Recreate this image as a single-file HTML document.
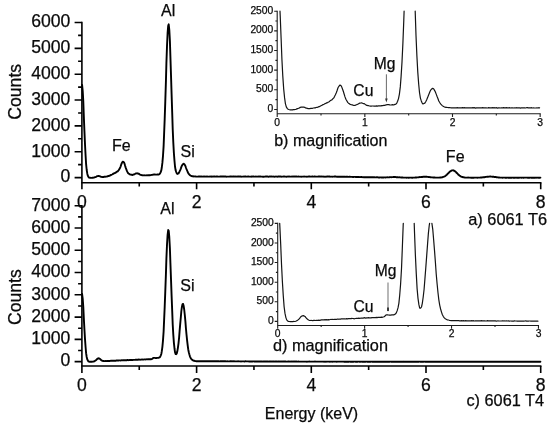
<!DOCTYPE html><html><head><meta charset="utf-8"><title>EDS spectra</title>
<style>html,body{margin:0;padding:0;background:#fff}svg{display:block}text{font-family:"Liberation Sans",sans-serif;fill:#0a0a0a;stroke:#0a0a0a;stroke-width:0.25px}</style></head><body>
<svg width="550" height="427" viewBox="0 0 550 427">
<rect width="550" height="427" fill="#fff"/>
<g stroke="#000" stroke-width="1.6" fill="none" stroke-linecap="butt"><path d="M81.90 21.85V189.25"/><path d="M81.15 182.75H541.45"/><path d="M74.60 177.60H81.90M78.10 164.67H81.90M74.60 151.75H81.90M78.10 138.82H81.90M74.60 125.90H81.90M78.10 112.97H81.90M74.60 100.05H81.90M78.10 87.12H81.90M74.60 74.20H81.90M78.10 61.27H81.90M74.60 48.35H81.90M78.10 35.42H81.90M74.60 22.50H81.90M139.25 182.75V186.45M196.60 182.75V189.25M253.95 182.75V186.45M311.30 182.75V189.25M368.65 182.75V186.45M426.00 182.75V189.25M483.35 182.75V186.45M540.70 182.75V189.25"/></g><g font-size="17.6" text-anchor="end"><text x="70.4" y="182.4">0</text><text x="70.4" y="156.6">1000</text><text x="70.4" y="130.7">2000</text><text x="70.4" y="104.8">3000</text><text x="70.4" y="79.0">4000</text><text x="70.4" y="53.1">5000</text><text x="70.4" y="27.3">6000</text></g><g font-size="17.6" text-anchor="middle"><text x="81.9" y="207.7">0</text><text x="196.6" y="207.7">2</text><text x="311.3" y="207.7">4</text><text x="426.0" y="207.7">6</text><text x="540.7" y="207.7">8</text></g>
<g stroke="#000" stroke-width="1.6" fill="none" stroke-linecap="butt"><path d="M81.90 205.05V373.00"/><path d="M81.15 366.00H541.45"/><path d="M74.60 361.60H81.90M78.10 350.47H81.90M74.60 339.34H81.90M78.10 328.21H81.90M74.60 317.08H81.90M78.10 305.95H81.90M74.60 294.82H81.90M78.10 283.69H81.90M74.60 272.56H81.90M78.10 261.43H81.90M74.60 250.30H81.90M78.10 239.17H81.90M74.60 228.04H81.90M78.10 216.91H81.90M74.60 205.78H81.90M139.25 366.00V370.00M196.60 366.00V373.00M253.95 366.00V370.00M311.30 366.00V373.00M368.65 366.00V370.00M426.00 366.00V373.00M483.35 366.00V370.00M540.70 366.00V373.00"/></g><g font-size="17.6" text-anchor="end"><text x="70.4" y="366.4">0</text><text x="70.4" y="344.1">1000</text><text x="70.4" y="321.9">2000</text><text x="70.4" y="299.6">3000</text><text x="70.4" y="277.4">4000</text><text x="70.4" y="255.1">5000</text><text x="70.4" y="232.8">6000</text><text x="70.4" y="210.6">7000</text></g><g font-size="17.6" text-anchor="middle"><text x="81.9" y="391.1">0</text><text x="196.6" y="391.1">2</text><text x="311.3" y="391.1">4</text><text x="426.0" y="391.1">6</text><text x="540.7" y="391.1">8</text></g>
<g stroke="#1c1c1c" stroke-width="1.1" fill="none"><path d="M277.20 10.65V117.00"/><path d="M277.20 113.80H540.70"/><path d="M274.20 109.45H277.20M275.40 99.62H277.20M274.20 89.80H277.20M275.40 79.97H277.20M274.20 70.15H277.20M275.40 60.33H277.20M274.20 50.50H277.20M275.40 40.67H277.20M274.20 30.85H277.20M275.40 21.02H277.20M274.20 11.20H277.20M321.02 113.80V115.40M364.85 113.80V117.00M408.68 113.80V115.40M452.50 113.80V117.00M496.32 113.80V115.40M540.15 113.80V117.00"/></g><g font-size="10.3" text-anchor="end" stroke="none"><text x="273.3" y="112.0">0</text><text x="273.3" y="92.3">500</text><text x="273.3" y="72.7">1000</text><text x="273.3" y="53.0">1500</text><text x="273.3" y="33.3">2000</text><text x="273.3" y="13.7">2500</text></g><g font-size="10.3" text-anchor="middle" stroke="none"><text x="277.2" y="125.6">0</text><text x="364.9" y="125.6">1</text><text x="452.5" y="125.6">2</text><text x="540.2" y="125.6">3</text></g>
<g stroke="#1c1c1c" stroke-width="1.1" fill="none"><path d="M277.70 222.80V328.70"/><path d="M277.70 325.50H539.01"/><path d="M274.70 321.40H277.70M275.90 311.59H277.70M274.70 301.79H277.70M275.90 291.98H277.70M274.70 282.18H277.70M275.90 272.37H277.70M274.70 262.57H277.70M275.90 252.76H277.70M274.70 242.96H277.70M275.90 233.15H277.70M274.70 223.35H277.70M321.16 325.50V327.10M364.62 325.50V328.70M408.08 325.50V327.10M451.54 325.50V328.70M495.00 325.50V327.10M538.46 325.50V328.70"/></g><g font-size="10.3" text-anchor="end" stroke="none"><text x="273.8" y="323.9">0</text><text x="273.8" y="304.3">500</text><text x="273.8" y="284.7">1000</text><text x="273.8" y="265.1">1500</text><text x="273.8" y="245.5">2000</text><text x="273.8" y="225.8">2500</text></g><g font-size="10.3" text-anchor="middle" stroke="none"><text x="277.7" y="337.4">0</text><text x="364.6" y="337.4">1</text><text x="451.5" y="337.4">2</text><text x="538.5" y="337.4">3</text></g>
<g fill="none" stroke="#000" stroke-linejoin="round" stroke-linecap="round">
<path stroke-width="1.9" d="M82.1 85.0L82.7 90.8L83.3 101.6L83.8 115.8L84.4 130.6L85.0 144.3L85.6 155.7L86.1 164.2L86.7 170.0L87.3 173.7L87.9 175.9L88.4 176.9L89.0 177.5L89.6 177.7L90.2 177.8L90.7 177.9L91.3 177.9L91.9 177.9L92.5 177.7L93.0 177.7L93.6 177.6L94.2 177.5L94.7 177.2L95.3 177.1L95.9 176.9L96.5 176.6L97.0 176.2L97.6 176.1L98.2 176.0L98.8 176.0L99.3 176.1L99.9 176.2L100.5 176.6L101.1 176.8L101.6 176.9L102.2 177.1L102.8 177.0L103.3 177.0L103.9 176.8L104.5 176.8L105.1 176.8L105.6 176.6L106.2 176.6L106.8 176.5L107.4 176.3L107.9 176.2L108.5 176.0L109.1 175.8L109.7 175.7L110.2 175.4L110.8 175.0L111.4 174.8L112.0 174.5L112.5 174.2L113.1 173.8L113.7 173.7L114.2 173.2L114.8 173.1L115.4 172.7L116.0 172.5L116.5 171.9L117.1 171.6L117.7 171.3L118.3 170.6L118.8 170.1L119.4 169.1L120.0 168.0L120.6 166.6L121.1 164.9L121.7 163.3L122.3 162.4L122.8 161.6L123.4 161.8L124.0 162.4L124.6 163.9L125.1 165.7L125.7 167.6L126.3 169.3L126.9 170.9L127.4 171.9L128.0 173.0L128.6 173.5L129.2 173.9L129.7 174.3L130.3 174.5L130.9 174.6L131.5 174.7L132.0 174.8L132.6 175.0L133.2 174.7L133.7 174.5L134.3 174.3L134.9 174.0L135.5 173.7L136.0 173.5L136.6 173.4L137.2 173.3L137.8 173.5L138.3 173.7L138.9 173.8L139.5 174.3L140.1 174.7L140.6 174.9L141.2 175.0L141.8 175.1L142.3 175.3L142.9 175.4L143.5 175.4L144.1 175.3L144.6 175.4L145.2 175.4L145.8 175.4L146.4 175.4L146.9 175.3L147.5 175.4L148.1 175.3L148.7 175.2L149.2 175.2L149.8 175.3L150.4 175.1L150.9 175.1L151.5 174.9L152.1 174.9L152.7 174.8L153.2 174.6L153.8 174.5L154.4 174.5L155.0 174.5L155.5 174.6L156.1 174.6L156.7 174.6L157.3 174.5L157.8 174.5L158.4 174.6L159.0 174.3L159.6 174.0L160.1 173.4L160.7 172.2L161.3 170.4L161.8 167.5L162.4 162.7L163.0 155.8L163.6 146.4L164.1 134.0L164.7 118.9L165.3 101.1L165.9 82.1L166.4 63.2L167.0 46.3L167.6 33.2L168.2 25.7L168.7 24.3L169.3 29.8L169.9 40.9L170.4 56.6L171.0 75.0L171.6 94.3L172.2 112.6L172.7 129.0L173.3 142.5L173.9 153.2L174.5 161.0L175.0 166.5L175.6 170.1L176.2 172.0L176.8 173.4L177.3 174.0L177.9 173.7L178.5 173.4L179.1 172.5L179.6 171.3L180.2 170.1L180.8 168.6L181.3 167.1L181.9 165.7L182.5 164.7L183.1 164.0L183.6 163.7L184.2 164.0L184.8 164.9L185.4 166.0L185.9 167.5L186.5 169.1L187.1 170.5L187.7 172.0L188.2 173.0L188.8 173.9L189.4 174.6L189.9 175.1L190.5 175.5L191.1 175.8L191.7 176.1L192.2 176.2L192.8 176.3L193.4 176.3L194.0 176.5L194.5 176.4L195.1 176.4L195.7 176.5L196.3 176.6L196.8 176.6L197.4 176.6L198.0 176.6L198.5 176.5L199.1 176.5L199.7 176.5L200.3 176.5L200.8 176.6L201.4 176.5L202.0 176.6L202.6 176.6L203.1 176.5L203.7 176.6L204.3 176.5L204.9 176.6L205.4 176.6L206.0 176.5L206.6 176.6L207.2 176.5L207.7 176.6L208.3 176.6L208.9 176.6L209.4 176.6L210.0 176.5L210.6 176.6L211.2 176.5L211.7 176.7L212.3 176.6L212.9 176.5L213.5 176.6L214.0 176.5L214.6 176.5L215.2 176.6L215.8 176.5L216.3 176.4L216.9 176.6L217.5 176.5L218.0 176.6L218.6 176.6L219.2 176.6L219.8 176.6L220.3 176.4L220.9 176.5L221.5 176.5L222.1 176.5L222.6 176.5L223.2 176.5L223.8 176.5L224.4 176.5L224.9 176.6L225.5 176.5L226.1 176.7L226.7 176.6L227.2 176.6L227.8 176.6L228.4 176.6L228.9 176.6L229.5 176.6L230.1 176.4L230.7 176.5L231.2 176.6L231.8 176.5L232.4 176.6L233.0 176.5L233.5 176.5L234.1 176.5L234.7 176.6L235.3 176.5L235.8 176.6L236.4 176.6L237.0 176.5L237.5 176.6L238.1 176.5L238.7 176.5L239.3 176.5L239.8 176.6L240.4 176.5L241.0 176.7L241.6 176.6L242.1 176.6L242.7 176.6L243.3 176.6L243.9 176.5L244.4 176.6L245.0 176.5L245.6 176.4L246.2 176.6L246.7 176.6L247.3 176.6L247.9 176.5L248.4 176.5L249.0 176.6L249.6 176.6L250.2 176.6L250.7 176.6L251.3 176.7L251.9 176.5L252.5 176.6L253.0 176.5L253.6 176.5L254.2 176.6L254.8 176.6L255.3 176.6L255.9 176.5L256.5 176.6L257.0 176.6L257.6 176.6L258.2 176.5L258.8 176.6L259.3 176.5L259.9 176.6L260.5 176.5L261.1 176.6L261.6 176.6L262.2 176.6L262.8 176.7L263.4 176.6L263.9 176.7L264.5 176.6L265.1 176.6L265.6 176.5L266.2 176.5L266.8 176.5L267.4 176.5L267.9 176.6L268.5 176.7L269.1 176.6L269.7 176.5L270.2 176.6L270.8 176.5L271.4 176.5L272.0 176.6L272.5 176.6L273.1 176.5L273.7 176.6L274.3 176.7L274.8 176.6L275.4 176.6L276.0 176.5L276.5 176.6L277.1 176.6L277.7 176.7L278.3 176.5L278.8 176.5L279.4 176.5L280.0 176.6L280.6 176.5L281.1 176.7L281.7 176.6L282.3 176.6L282.9 176.6L283.4 176.5L284.0 176.6L284.6 176.5L285.1 176.6L285.7 176.6L286.3 176.7L286.9 176.6L287.4 176.6L288.0 176.5L288.6 176.6L289.2 176.5L289.7 176.6L290.3 176.6L290.9 176.6L291.5 176.6L292.0 176.5L292.6 176.6L293.2 176.5L293.8 176.6L294.3 176.5L294.9 176.6L295.5 176.5L296.0 176.6L296.6 176.5L297.2 176.6L297.8 176.6L298.3 176.5L298.9 176.6L299.5 176.6L300.1 176.6L300.6 176.6L301.2 176.7L301.8 176.6L302.4 176.6L302.9 176.6L303.5 176.6L304.1 176.5L304.6 176.6L305.2 176.6L305.8 176.6L306.4 176.6L306.9 176.7L307.5 176.6L308.1 176.6L308.7 176.5L309.2 176.5L309.8 176.5L310.4 176.6L311.0 176.6L311.5 176.6L312.1 176.5L312.7 176.5L313.2 176.6L313.8 176.6L314.4 176.5L315.0 176.5L315.5 176.6L316.1 176.6L316.7 176.6L317.3 176.6L317.8 176.6L318.4 176.5L319.0 176.5L319.6 176.5L320.1 176.5L320.7 176.6L321.3 176.5L321.9 176.6L322.4 176.6L323.0 176.5L323.6 176.6L324.1 176.7L324.7 176.6L325.3 176.6L325.9 176.7L326.4 176.6L327.0 176.5L327.6 176.5L328.2 176.6L328.7 176.5L329.3 176.5L329.9 176.7L330.5 176.6L331.0 176.6L331.6 176.6L332.2 176.7L332.7 176.6L333.3 176.6L333.9 176.6L334.5 176.5L335.0 176.7L335.6 176.5L336.2 176.6L336.8 176.7L337.3 176.6L337.9 176.7L338.5 176.6L339.1 176.7L339.6 176.6L340.2 176.7L340.8 176.7L341.4 176.7L341.9 176.7L342.5 176.8L343.1 176.7L343.6 176.8L344.2 176.8L344.8 176.8L345.4 176.9L345.9 176.8L346.5 176.7L347.1 176.9L347.7 176.8L348.2 176.9L348.8 176.9L349.4 176.8L350.0 176.8L350.5 176.9L351.1 176.9L351.7 176.9L352.2 176.9L352.8 177.0L353.4 177.0L354.0 176.9L354.5 176.9L355.1 176.9L355.7 177.0L356.3 177.0L356.8 177.0L357.4 177.0L358.0 177.0L358.6 177.0L359.1 177.0L359.7 177.1L360.3 177.1L360.9 177.0L361.4 177.0L362.0 177.2L362.6 177.1L363.1 177.1L363.7 177.2L364.3 177.1L364.9 177.2L365.4 177.2L366.0 177.1L366.6 177.2L367.2 177.2L367.7 177.2L368.3 177.3L368.9 177.2L369.5 177.3L370.0 177.2L370.6 177.3L371.2 177.3L371.7 177.2L372.3 177.3L372.9 177.3L373.5 177.3L374.0 177.4L374.6 177.3L375.2 177.4L375.8 177.4L376.3 177.3L376.9 177.4L377.5 177.3L378.1 177.4L378.6 177.5L379.2 177.5L379.8 177.5L380.3 177.4L380.9 177.4L381.5 177.5L382.1 177.4L382.6 177.5L383.2 177.5L383.8 177.5L384.4 177.4L384.9 177.4L385.5 177.5L386.1 177.4L386.7 177.4L387.2 177.3L387.8 177.4L388.4 177.4L389.0 177.3L389.5 177.2L390.1 177.1L390.7 177.1L391.2 177.2L391.8 177.1L392.4 177.1L393.0 177.1L393.5 177.0L394.1 177.0L394.7 177.0L395.3 177.0L395.8 177.1L396.4 177.2L397.0 177.2L397.6 177.2L398.1 177.3L398.7 177.4L399.3 177.3L399.8 177.4L400.4 177.4L401.0 177.5L401.6 177.5L402.1 177.5L402.7 177.5L403.3 177.6L403.9 177.6L404.4 177.6L405.0 177.6L405.6 177.6L406.2 177.6L406.7 177.7L407.3 177.6L407.9 177.6L408.5 177.7L409.0 177.7L409.6 177.6L410.2 177.6L410.7 177.6L411.3 177.6L411.9 177.7L412.5 177.7L413.0 177.6L413.6 177.6L414.2 177.6L414.8 177.6L415.3 177.5L415.9 177.5L416.5 177.5L417.1 177.4L417.6 177.4L418.2 177.4L418.8 177.3L419.3 177.1L419.9 177.0L420.5 177.1L421.1 177.0L421.6 176.9L422.2 177.0L422.8 176.8L423.4 176.9L423.9 176.7L424.5 176.7L425.1 176.7L425.7 176.8L426.2 176.7L426.8 176.8L427.4 176.9L427.9 176.9L428.5 177.1L429.1 177.0L429.7 177.1L430.2 177.2L430.8 177.3L431.4 177.4L432.0 177.4L432.5 177.4L433.1 177.5L433.7 177.5L434.3 177.5L434.8 177.5L435.4 177.6L436.0 177.6L436.6 177.6L437.1 177.6L437.7 177.6L438.3 177.6L438.8 177.6L439.4 177.6L440.0 177.5L440.6 177.5L441.1 177.5L441.7 177.4L442.3 177.3L442.9 177.0L443.4 176.9L444.0 176.7L444.6 176.4L445.2 176.1L445.7 175.7L446.3 175.1L446.9 174.7L447.4 174.1L448.0 173.6L448.6 173.0L449.2 172.3L449.7 171.7L450.3 171.4L450.9 171.0L451.5 170.6L452.0 170.4L452.6 170.4L453.2 170.3L453.8 170.5L454.3 170.9L454.9 171.2L455.5 171.6L456.1 172.2L456.6 172.9L457.2 173.3L457.8 174.0L458.3 174.6L458.9 175.0L459.5 175.6L460.1 175.9L460.6 176.4L461.2 176.6L461.8 176.9L462.4 177.0L462.9 177.2L463.5 177.3L464.1 177.4L464.7 177.5L465.2 177.6L465.8 177.6L466.4 177.6L466.9 177.6L467.5 177.6L468.1 177.5L468.7 177.6L469.2 177.6L469.8 177.6L470.4 177.6L471.0 177.7L471.5 177.6L472.1 177.7L472.7 177.7L473.3 177.7L473.8 177.7L474.4 177.6L475.0 177.6L475.6 177.6L476.1 177.6L476.7 177.6L477.3 177.7L477.8 177.6L478.4 177.6L479.0 177.6L479.6 177.6L480.1 177.6L480.7 177.5L481.3 177.5L481.9 177.5L482.4 177.4L483.0 177.3L483.6 177.3L484.2 177.2L484.7 177.2L485.3 177.0L485.9 176.9L486.4 176.9L487.0 176.8L487.6 176.7L488.2 176.7L488.7 176.6L489.3 176.6L489.9 176.5L490.5 176.5L491.0 176.6L491.6 176.6L492.2 176.7L492.8 176.7L493.3 176.8L493.9 176.8L494.5 177.0L495.0 177.0L495.6 177.0L496.2 177.2L496.8 177.2L497.3 177.3L497.9 177.4L498.5 177.5L499.1 177.4L499.6 177.6L500.2 177.6L500.8 177.6L501.4 177.6L501.9 177.6L502.5 177.7L503.1 177.6L503.7 177.6L504.2 177.6L504.8 177.6L505.4 177.7L505.9 177.6L506.5 177.7L507.1 177.6L507.7 177.6L508.2 177.7L508.8 177.7L509.4 177.6L510.0 177.7L510.5 177.7L511.1 177.6L511.7 177.7L512.3 177.6L512.8 177.6L513.4 177.7L514.0 177.6L514.5 177.7L515.1 177.7L515.7 177.6L516.3 177.6L516.8 177.7L517.4 177.6L518.0 177.7L518.6 177.7L519.1 177.7L519.7 177.6L520.3 177.6L520.9 177.6L521.4 177.7L522.0 177.6L522.6 177.6L523.2 177.7L523.7 177.7L524.3 177.6L524.9 177.6L525.4 177.6L526.0 177.6L526.6 177.6L527.2 177.6L527.7 177.7L528.3 177.7L528.9 177.7L529.5 177.7L530.0 177.6L530.6 177.6L531.2 177.7L531.8 177.7L532.3 177.7L532.9 177.7L533.5 177.6L534.0 177.7L534.6 177.6L535.2 177.7L535.8 177.6L536.3 177.6L536.9 177.7L537.5 177.6L538.1 177.6L538.6 177.7L539.2 177.7L539.8 177.7L540.4 177.6"/>
<path stroke-width="1.9" d="M82.1 294.0L82.7 298.6L83.3 307.0L83.8 317.9L84.4 329.0L85.0 339.1L85.6 347.2L86.1 353.2L86.7 357.0L87.3 359.4L87.9 360.7L88.4 361.3L89.0 361.6L89.6 361.7L90.2 361.8L90.7 361.8L91.3 361.8L91.9 361.8L92.5 361.6L93.0 361.6L93.6 361.5L94.2 361.4L94.7 361.0L95.3 360.7L95.9 360.3L96.5 359.8L97.0 359.1L97.6 358.7L98.2 358.4L98.8 358.3L99.3 358.5L99.9 358.8L100.5 359.5L101.1 360.0L101.6 360.4L102.2 360.8L102.8 360.9L103.3 361.1L103.9 361.0L104.5 361.1L105.1 361.1L105.6 361.0L106.2 361.0L106.8 361.1L107.4 361.0L107.9 361.0L108.5 361.0L109.1 360.9L109.7 361.0L110.2 360.9L110.8 360.8L111.4 360.8L112.0 360.7L112.5 360.7L113.1 360.7L113.7 360.7L114.2 360.6L114.8 360.7L115.4 360.6L116.0 360.7L116.5 360.5L117.1 360.5L117.7 360.5L118.3 360.4L118.8 360.5L119.4 360.4L120.0 360.4L120.6 360.5L121.1 360.4L121.7 360.3L122.3 360.4L122.8 360.3L123.4 360.3L124.0 360.2L124.6 360.2L125.1 360.2L125.7 360.2L126.3 360.2L126.9 360.2L127.4 360.0L128.0 360.2L128.6 360.1L129.2 360.0L129.7 360.1L130.3 360.0L130.9 359.9L131.5 360.0L132.0 360.0L132.6 360.1L133.2 359.9L133.7 359.9L134.3 359.9L134.9 359.9L135.5 359.8L136.0 359.8L136.6 359.8L137.2 359.7L137.8 359.8L138.3 359.7L138.9 359.5L139.5 359.6L140.1 359.7L140.6 359.6L141.2 359.6L141.8 359.5L142.3 359.5L142.9 359.6L143.5 359.6L144.1 359.4L144.6 359.4L145.2 359.5L145.8 359.4L146.4 359.4L146.9 359.3L147.5 359.4L148.1 359.3L148.7 359.3L149.2 359.3L149.8 359.3L150.4 359.2L150.9 359.3L151.5 359.1L152.1 358.9L152.7 358.5L153.2 358.0L153.8 357.9L154.4 357.9L155.0 357.9L155.5 358.1L156.1 358.1L156.7 358.0L157.3 357.9L157.8 357.9L158.4 357.9L159.0 357.6L159.6 357.4L160.1 356.8L160.7 355.6L161.3 354.0L161.8 351.2L162.4 346.8L163.0 340.4L163.6 331.7L164.1 320.4L164.7 306.8L165.3 291.1L165.9 274.6L166.4 258.6L167.0 244.7L167.6 234.8L168.2 230.0L168.7 230.7L169.3 237.2L169.9 248.2L170.4 262.8L171.0 279.1L171.6 295.6L172.2 310.9L172.7 324.2L173.3 334.8L173.9 342.9L174.5 348.5L175.0 352.1L175.6 354.0L176.2 354.2L176.8 353.4L177.3 351.3L177.9 347.8L178.5 343.3L179.1 337.6L179.6 331.1L180.2 324.2L180.8 317.5L181.3 311.5L181.9 306.9L182.5 304.3L183.1 303.9L183.6 305.7L184.2 309.5L184.8 315.0L185.4 321.3L185.9 328.0L186.5 334.5L187.1 340.3L187.7 345.3L188.2 349.2L188.8 352.3L189.4 354.6L189.9 356.3L190.5 357.7L191.1 358.6L191.7 359.4L192.2 359.9L192.8 360.3L193.4 360.5L194.0 360.8L194.5 360.8L195.1 361.0L195.7 361.1L196.3 361.2L196.8 361.2L197.4 361.2L198.0 361.2L198.5 361.2L199.1 361.2L199.7 361.2L200.3 361.2L200.8 361.2L201.4 361.2L202.0 361.2L202.6 361.3L203.1 361.2L203.7 361.3L204.3 361.2L204.9 361.3L205.4 361.2L206.0 361.2L206.6 361.3L207.2 361.2L207.7 361.3L208.3 361.3L208.9 361.3L209.4 361.3L210.0 361.2L210.6 361.3L211.2 361.2L211.7 361.4L212.3 361.3L212.9 361.3L213.5 361.3L214.0 361.3L214.6 361.3L215.2 361.3L215.8 361.3L216.3 361.2L216.9 361.3L217.5 361.3L218.0 361.3L218.6 361.3L219.2 361.4L219.8 361.3L220.3 361.2L220.9 361.3L221.5 361.3L222.1 361.3L222.6 361.3L223.2 361.3L223.8 361.3L224.4 361.3L224.9 361.3L225.5 361.3L226.1 361.4L226.7 361.4L227.2 361.3L227.8 361.4L228.4 361.4L228.9 361.4L229.5 361.4L230.1 361.3L230.7 361.3L231.2 361.4L231.8 361.3L232.4 361.4L233.0 361.3L233.5 361.4L234.1 361.3L234.7 361.4L235.3 361.4L235.8 361.4L236.4 361.4L237.0 361.4L237.5 361.4L238.1 361.3L238.7 361.4L239.3 361.4L239.8 361.4L240.4 361.4L241.0 361.5L241.6 361.4L242.1 361.4L242.7 361.4L243.3 361.4L243.9 361.4L244.4 361.5L245.0 361.4L245.6 361.3L246.2 361.4L246.7 361.4L247.3 361.4L247.9 361.4L248.4 361.4L249.0 361.5L249.6 361.5L250.2 361.5L250.7 361.5L251.3 361.5L251.9 361.4L252.5 361.5L253.0 361.4L253.6 361.4L254.2 361.5L254.8 361.5L255.3 361.5L255.9 361.4L256.5 361.5L257.0 361.5L257.6 361.5L258.2 361.5L258.8 361.5L259.3 361.4L259.9 361.5L260.5 361.5L261.1 361.5L261.6 361.5L262.2 361.5L262.8 361.6L263.4 361.5L263.9 361.5L264.5 361.5L265.1 361.5L265.6 361.4L266.2 361.5L266.8 361.5L267.4 361.5L267.9 361.5L268.5 361.6L269.1 361.5L269.7 361.5L270.2 361.5L270.8 361.5L271.4 361.5L272.0 361.6L272.5 361.5L273.1 361.4L273.7 361.5L274.3 361.6L274.8 361.5L275.4 361.5L276.0 361.5L276.5 361.5L277.1 361.5L277.7 361.6L278.3 361.5L278.8 361.5L279.4 361.5L280.0 361.6L280.6 361.5L281.1 361.6L281.7 361.5L282.3 361.5L282.9 361.6L283.4 361.5L284.0 361.5L284.6 361.5L285.1 361.5L285.7 361.5L286.3 361.6L286.9 361.6L287.4 361.6L288.0 361.5L288.6 361.5L289.2 361.5L289.7 361.6L290.3 361.6L290.9 361.5L291.5 361.6L292.0 361.5L292.6 361.6L293.2 361.5L293.8 361.6L294.3 361.5L294.9 361.6L295.5 361.5L296.0 361.6L296.6 361.5L297.2 361.6L297.8 361.6L298.3 361.5L298.9 361.6L299.5 361.6L300.1 361.6L300.6 361.6L301.2 361.6L301.8 361.6L302.4 361.6L302.9 361.6L303.5 361.6L304.1 361.6L304.6 361.6L305.2 361.6L305.8 361.6L306.4 361.6L306.9 361.7L307.5 361.6L308.1 361.6L308.7 361.6L309.2 361.5L309.8 361.6L310.4 361.6L311.0 361.6L311.5 361.6L312.1 361.6L312.7 361.6L313.2 361.6L313.8 361.6L314.4 361.6L315.0 361.5L315.5 361.6L316.1 361.6L316.7 361.6L317.3 361.6L317.8 361.6L318.4 361.6L319.0 361.6L319.6 361.6L320.1 361.6L320.7 361.6L321.3 361.6L321.9 361.6L322.4 361.6L323.0 361.6L323.6 361.6L324.1 361.7L324.7 361.6L325.3 361.6L325.9 361.7L326.4 361.6L327.0 361.6L327.6 361.6L328.2 361.6L328.7 361.6L329.3 361.6L329.9 361.7L330.5 361.6L331.0 361.6L331.6 361.6L332.2 361.7L332.7 361.6L333.3 361.6L333.9 361.6L334.5 361.6L335.0 361.6L335.6 361.6L336.2 361.6L336.8 361.7L337.3 361.6L337.9 361.6L338.5 361.6L339.1 361.6L339.6 361.6L340.2 361.6L340.8 361.6L341.4 361.6L341.9 361.6L342.5 361.6L343.1 361.6L343.6 361.6L344.2 361.7L344.8 361.7L345.4 361.7L345.9 361.7L346.5 361.6L347.1 361.7L347.7 361.6L348.2 361.7L348.8 361.7L349.4 361.6L350.0 361.6L350.5 361.7L351.1 361.6L351.7 361.7L352.2 361.7L352.8 361.7L353.4 361.7L354.0 361.6L354.5 361.6L355.1 361.6L355.7 361.7L356.3 361.7L356.8 361.7L357.4 361.7L358.0 361.6L358.6 361.6L359.1 361.6L359.7 361.7L360.3 361.7L360.9 361.6L361.4 361.6L362.0 361.7L362.6 361.7L363.1 361.6L363.7 361.7L364.3 361.6L364.9 361.7L365.4 361.7L366.0 361.6L366.6 361.6L367.2 361.7L367.7 361.6L368.3 361.7L368.9 361.6L369.5 361.7L370.0 361.7L370.6 361.7L371.2 361.6L371.7 361.6L372.3 361.7L372.9 361.6L373.5 361.7L374.0 361.7L374.6 361.7L375.2 361.7L375.8 361.7L376.3 361.6L376.9 361.7L377.5 361.6L378.1 361.7L378.6 361.7L379.2 361.7L379.8 361.7L380.3 361.7L380.9 361.7L381.5 361.7L382.1 361.6L382.6 361.7L383.2 361.7L383.8 361.7L384.4 361.6L384.9 361.7L385.5 361.7L386.1 361.7L386.7 361.7L387.2 361.6L387.8 361.7L388.4 361.7L389.0 361.7L389.5 361.7L390.1 361.6L390.7 361.6L391.2 361.7L391.8 361.7L392.4 361.7L393.0 361.7L393.5 361.7L394.1 361.7L394.7 361.7L395.3 361.6L395.8 361.7L396.4 361.7L397.0 361.7L397.6 361.7L398.1 361.7L398.7 361.7L399.3 361.7L399.8 361.7L400.4 361.7L401.0 361.7L401.6 361.7L402.1 361.7L402.7 361.6L403.3 361.8L403.9 361.7L404.4 361.7L405.0 361.7L405.6 361.7L406.2 361.7L406.7 361.7L407.3 361.7L407.9 361.6L408.5 361.7L409.0 361.7L409.6 361.7L410.2 361.7L410.7 361.6L411.3 361.7L411.9 361.7L412.5 361.7L413.0 361.7L413.6 361.7L414.2 361.7L414.8 361.7L415.3 361.7L415.9 361.7L416.5 361.7L417.1 361.7L417.6 361.7L418.2 361.7L418.8 361.7L419.3 361.6L419.9 361.6L420.5 361.7L421.1 361.7L421.6 361.7L422.2 361.7L422.8 361.7L423.4 361.7L423.9 361.6L424.5 361.6L425.1 361.7L425.7 361.7L426.2 361.6L426.8 361.7L427.4 361.7L427.9 361.7L428.5 361.8L429.1 361.7L429.7 361.7L430.2 361.7L430.8 361.7L431.4 361.7L432.0 361.7L432.5 361.7L433.1 361.7L433.7 361.7L434.3 361.7L434.8 361.7L435.4 361.7L436.0 361.7L436.6 361.7L437.1 361.6L437.7 361.7L438.3 361.7L438.8 361.7L439.4 361.7L440.0 361.7L440.6 361.7L441.1 361.7L441.7 361.7L442.3 361.7L442.9 361.7L443.4 361.7L444.0 361.7L444.6 361.7L445.2 361.7L445.7 361.7L446.3 361.6L446.9 361.7L447.4 361.7L448.0 361.7L448.6 361.7L449.2 361.7L449.7 361.7L450.3 361.8L450.9 361.7L451.5 361.7L452.0 361.7L452.6 361.8L453.2 361.7L453.8 361.7L454.3 361.8L454.9 361.7L455.5 361.7L456.1 361.7L456.6 361.7L457.2 361.6L457.8 361.7L458.3 361.7L458.9 361.7L459.5 361.7L460.1 361.7L460.6 361.7L461.2 361.7L461.8 361.7L462.4 361.7L462.9 361.7L463.5 361.7L464.1 361.7L464.7 361.7L465.2 361.8L465.8 361.7L466.4 361.7L466.9 361.7L467.5 361.7L468.1 361.6L468.7 361.7L469.2 361.7L469.8 361.7L470.4 361.7L471.0 361.8L471.5 361.7L472.1 361.7L472.7 361.8L473.3 361.7L473.8 361.7L474.4 361.7L475.0 361.7L475.6 361.7L476.1 361.7L476.7 361.7L477.3 361.8L477.8 361.7L478.4 361.7L479.0 361.7L479.6 361.8L480.1 361.8L480.7 361.7L481.3 361.7L481.9 361.7L482.4 361.7L483.0 361.7L483.6 361.7L484.2 361.7L484.7 361.8L485.3 361.7L485.9 361.7L486.4 361.7L487.0 361.7L487.6 361.7L488.2 361.7L488.7 361.7L489.3 361.7L489.9 361.7L490.5 361.7L491.0 361.7L491.6 361.7L492.2 361.7L492.8 361.7L493.3 361.7L493.9 361.7L494.5 361.8L495.0 361.7L495.6 361.7L496.2 361.8L496.8 361.7L497.3 361.7L497.9 361.7L498.5 361.8L499.1 361.7L499.6 361.7L500.2 361.7L500.8 361.7L501.4 361.8L501.9 361.8L502.5 361.8L503.1 361.7L503.7 361.7L504.2 361.7L504.8 361.7L505.4 361.7L505.9 361.7L506.5 361.7L507.1 361.7L507.7 361.7L508.2 361.8L508.8 361.8L509.4 361.7L510.0 361.8L510.5 361.7L511.1 361.7L511.7 361.8L512.3 361.7L512.8 361.7L513.4 361.7L514.0 361.7L514.5 361.7L515.1 361.8L515.7 361.7L516.3 361.7L516.8 361.7L517.4 361.7L518.0 361.8L518.6 361.7L519.1 361.8L519.7 361.7L520.3 361.7L520.9 361.7L521.4 361.8L522.0 361.7L522.6 361.7L523.2 361.8L523.7 361.7L524.3 361.7L524.9 361.7L525.4 361.7L526.0 361.7L526.6 361.7L527.2 361.7L527.7 361.7L528.3 361.8L528.9 361.7L529.5 361.7L530.0 361.6L530.6 361.7L531.2 361.7L531.8 361.7L532.3 361.7L532.9 361.7L533.5 361.7L534.0 361.7L534.6 361.7L535.2 361.7L535.8 361.7L536.3 361.7L536.9 361.8L537.5 361.7L538.1 361.7L538.6 361.7L539.2 361.7L539.8 361.8L540.4 361.7"/>
<path stroke-width="1.2" stroke="#141414" d="M280.0 11.2L280.2 15.5L281.1 37.9L281.9 58.9L282.8 76.1L283.7 89.1L284.6 97.9L285.4 103.6L286.3 106.9L287.2 108.4L288.1 109.2L288.9 109.5L289.8 109.8L290.7 109.9L291.6 109.8L292.5 109.9L293.3 109.6L294.2 109.7L295.1 109.5L296.0 109.3L296.8 108.9L297.7 108.6L298.6 108.3L299.5 107.9L300.3 107.3L301.2 107.1L302.1 107.1L303.0 107.1L303.8 107.2L304.7 107.3L305.6 108.0L306.5 108.2L307.4 108.4L308.2 108.7L309.1 108.6L310.0 108.6L310.9 108.3L311.7 108.3L312.6 108.3L313.5 108.0L314.4 107.9L315.2 107.9L316.1 107.5L317.0 107.3L317.9 107.1L318.7 106.7L319.6 106.6L320.5 106.0L321.4 105.5L322.3 105.1L323.1 104.6L324.0 104.2L324.9 103.7L325.8 103.5L326.6 102.8L327.5 102.7L328.4 102.0L329.3 101.7L330.1 100.8L331.0 100.3L331.9 99.9L332.8 98.8L333.6 98.1L334.5 96.6L335.4 94.8L336.3 92.8L337.2 90.2L338.0 87.7L338.9 86.3L339.8 85.1L340.7 85.4L341.5 86.4L342.4 88.7L343.3 91.3L344.2 94.2L345.0 96.9L345.9 99.3L346.8 100.8L347.7 102.4L348.5 103.2L349.4 103.8L350.3 104.5L351.2 104.7L352.1 104.8L352.9 105.1L353.8 105.3L354.7 105.5L355.6 105.1L356.4 104.8L357.3 104.4L358.2 104.0L359.1 103.4L359.9 103.2L360.8 103.0L361.7 102.9L362.6 103.3L363.4 103.6L364.3 103.7L365.2 104.4L366.1 105.1L367.0 105.3L367.8 105.6L368.7 105.7L369.6 106.0L370.5 106.1L371.3 106.2L372.2 106.0L373.1 106.0L374.0 106.1L374.8 106.1L375.7 106.1L376.6 105.9L377.5 106.1L378.3 105.9L379.2 105.8L380.1 105.8L381.0 105.9L381.9 105.6L382.7 105.7L383.6 105.4L384.5 105.3L385.4 105.2L386.2 104.8L387.1 104.7L388.0 104.7L388.9 104.7L389.7 104.9L390.6 105.0L391.5 104.9L392.4 104.7L393.2 104.8L394.1 104.8L395.0 104.4L395.9 104.1L396.8 103.1L397.6 101.2L398.5 98.6L399.4 94.1L400.3 86.9L401.1 76.4L402.0 62.0L402.9 43.1L403.8 20.1L404.1 11.2M415.2 11.2L416.0 35.5L416.9 56.0L417.8 72.4L418.7 84.2L419.5 92.5L420.4 98.1L421.3 100.9L422.2 103.1L423.0 104.0L423.9 103.5L424.8 103.1L425.7 101.7L426.6 99.9L427.4 98.1L428.3 95.7L429.2 93.5L430.1 91.3L430.9 89.8L431.8 88.8L432.7 88.4L433.6 88.8L434.4 90.1L435.3 91.8L436.2 94.1L437.1 96.5L438.0 98.7L438.8 101.0L439.7 102.5L440.6 103.9L441.5 104.8L442.3 105.6L443.2 106.3L444.1 106.8L445.0 107.2L445.8 107.3L446.7 107.4L447.6 107.5L448.5 107.7L449.3 107.5L450.2 107.7L451.1 107.8L452.0 107.9L452.9 107.9L453.7 107.9L454.6 107.9L455.5 107.8L456.4 107.8L457.2 107.7L458.1 107.8L459.0 107.9L459.9 107.8L460.7 107.9L461.6 107.9L462.5 107.7L463.4 107.9L464.2 107.7L465.1 107.9L466.0 107.9L466.9 107.8L467.8 107.9L468.6 107.8L469.5 107.9L470.4 107.9L471.3 107.9L472.1 107.9L473.0 107.7L473.9 107.9L474.8 107.7L475.6 108.1L476.5 107.9L477.4 107.8L478.3 107.9L479.1 107.8L480.0 107.8L480.9 107.9L481.8 107.8L482.7 107.6L483.5 107.9L484.4 107.8L485.3 107.9L486.2 107.9L487.0 108.0L487.9 107.9L488.8 107.6L489.7 107.8L490.5 107.8L491.4 107.8L492.3 107.7L493.2 107.8L494.0 107.7L494.9 107.8L495.8 107.9L496.7 107.7L497.6 108.1L498.4 107.9L499.3 107.9L500.2 108.0L501.1 107.9L501.9 107.9L502.8 107.9L503.7 107.6L504.6 107.8L505.4 107.9L506.3 107.7L507.2 107.9L508.1 107.8L508.9 107.8L509.8 107.7L510.7 108.0L511.6 107.8L512.5 107.9L513.3 108.0L514.2 107.8L515.1 108.0L516.0 107.7L516.8 107.8L517.7 107.8L518.6 107.9L519.5 107.8L520.3 108.1L521.2 107.9L522.1 107.9L523.0 107.9L523.8 107.9L524.7 107.8L525.6 108.0L526.5 107.7L527.4 107.6L528.2 107.9L529.1 107.9L530.0 107.8L530.9 107.8L531.7 107.7L532.6 108.0L533.5 107.9L534.4 108.0L535.2 108.0L536.1 108.0L537.0 107.8L537.9 108.0L538.7 107.7L539.6 107.8"/>
<path stroke-width="1.2" stroke="#141414" d="M279.7 223.3L279.8 225.2L280.7 244.4L281.5 263.9L282.4 281.7L283.3 296.1L284.1 306.6L285.0 313.4L285.9 317.6L286.7 319.9L287.6 320.9L288.5 321.4L289.3 321.5L290.2 321.7L291.1 321.7L292.0 321.7L292.8 321.7L293.7 321.4L294.6 321.5L295.4 321.3L296.3 321.0L297.2 320.4L298.0 319.9L298.9 319.2L299.8 318.2L300.6 317.0L301.5 316.3L302.4 315.8L303.3 315.7L304.1 315.9L305.0 316.4L305.9 317.7L306.7 318.5L307.6 319.3L308.5 320.0L309.3 320.3L310.2 320.5L311.1 320.4L311.9 320.5L312.8 320.6L313.7 320.4L314.6 320.4L315.4 320.5L316.3 320.4L317.2 320.3L318.0 320.3L318.9 320.2L319.8 320.3L320.6 320.1L321.5 319.9L322.4 319.9L323.2 319.8L324.1 319.8L325.0 319.7L325.9 319.9L326.7 319.7L327.6 319.9L328.5 319.7L329.3 319.8L330.2 319.5L331.1 319.4L331.9 319.5L332.8 319.3L333.7 319.5L334.5 319.4L335.4 319.3L336.3 319.4L337.2 319.2L338.0 319.0L338.9 319.3L339.8 319.0L340.6 319.1L341.5 318.8L342.4 318.9L343.2 318.9L344.1 318.8L345.0 318.8L345.8 319.0L346.7 318.6L347.6 318.9L348.5 318.7L349.3 318.6L350.2 318.7L351.1 318.6L351.9 318.4L352.8 318.5L353.7 318.6L354.5 318.8L355.4 318.5L356.3 318.4L357.1 318.4L358.0 318.4L358.9 318.2L359.8 318.3L360.6 318.2L361.5 318.0L362.4 318.2L363.2 318.1L364.1 317.7L365.0 317.9L365.8 318.1L366.7 317.9L367.6 317.8L368.4 317.7L369.3 317.8L370.2 317.8L371.1 317.8L371.9 317.6L372.8 317.6L373.7 317.7L374.5 317.6L375.4 317.6L376.3 317.4L377.1 317.6L378.0 317.4L378.9 317.3L379.7 317.3L380.6 317.4L381.5 317.1L382.4 317.3L383.2 317.0L384.1 316.7L385.0 316.0L385.8 315.1L386.7 314.8L387.6 314.9L388.4 315.0L389.3 315.2L390.2 315.2L391.0 315.1L391.9 314.8L392.8 314.8L393.7 314.9L394.5 314.4L395.4 314.0L396.3 312.9L397.1 310.9L398.0 307.9L398.9 303.1L399.7 295.3L400.6 284.0L401.5 268.7L402.3 248.8L403.2 224.9L403.3 223.3M414.2 223.3L414.5 232.1L415.4 255.4L416.3 274.1L417.1 288.6L418.0 298.4L418.9 304.7L419.7 308.1L420.6 308.2L421.5 307.0L422.3 303.3L423.2 297.0L424.1 289.2L424.9 279.1L425.8 267.6L426.7 255.6L427.6 243.6L428.4 233.1L429.3 225.0L429.6 223.3M431.9 223.3L432.8 229.7L433.6 239.3L434.5 250.4L435.4 262.3L436.2 273.7L437.1 283.8L438.0 292.7L438.8 299.6L439.7 305.1L440.6 309.0L441.5 312.1L442.3 314.5L443.2 316.2L444.1 317.6L444.9 318.4L445.8 319.0L446.7 319.5L447.5 320.0L448.4 320.0L449.3 320.3L450.1 320.5L451.0 320.6L451.9 320.7L452.8 320.7L453.6 320.7L454.5 320.7L455.4 320.6L456.2 320.6L457.1 320.6L458.0 320.7L458.8 320.7L459.7 320.8L460.6 320.8L461.4 320.6L462.3 320.8L463.2 320.6L464.1 320.8L464.9 320.8L465.8 320.7L466.7 320.8L467.5 320.8L468.4 320.8L469.3 320.8L470.1 320.8L471.0 320.9L471.9 320.7L472.7 320.8L473.6 320.7L474.5 321.0L475.4 320.8L476.2 320.8L477.1 320.9L478.0 320.8L478.8 320.8L479.7 320.9L480.6 320.8L481.4 320.7L482.3 320.9L483.2 320.9L484.0 320.9L484.9 320.9L485.8 321.0L486.7 320.9L487.5 320.7L488.4 320.8L489.3 320.9L490.1 320.8L491.0 320.8L491.9 320.9L492.7 320.8L493.6 320.9L494.5 320.9L495.3 320.8L496.2 321.1L497.1 321.0L498.0 320.9L498.8 321.0L499.7 321.0L500.6 321.0L501.4 321.0L502.3 320.8L503.2 320.9L504.0 321.0L504.9 320.9L505.8 321.0L506.6 320.9L507.5 321.0L508.4 320.9L509.3 321.1L510.1 321.0L511.0 321.0L511.9 321.1L512.7 321.0L513.6 321.1L514.5 320.9L515.3 321.0L516.2 321.0L517.1 321.1L517.9 321.0L518.8 321.2L519.7 321.1L520.6 321.1L521.4 321.1L522.3 321.1L523.2 321.0L524.0 321.1L524.9 321.0L525.8 320.9L526.6 321.1L527.5 321.1L528.4 321.1L529.2 321.0L530.1 321.0L531.0 321.2L531.9 321.2L532.7 321.2L533.6 321.2L534.5 321.2L535.3 321.1L536.2 321.2L537.1 321.0L537.9 321.1"/>
</g>
<g stroke="#444" stroke-width="0.8" fill="#333"><path d="M386.4 74.3V101"/><path d="M385.1 98.4L386.4 102.5L387.7 98.4Z" stroke="none"/></g>
<g stroke="#a6a6a6" stroke-width="1.6" fill="#3a3a3a"><path d="M388.0 282.5V308.3"/><path d="M387.0 307.6H389V310.2L388 311.4L387 310.2Z" stroke="none"/></g>
<text x="168.1" y="16.3" font-size="16" text-anchor="middle">Al</text>
<text x="121.4" y="150.9" font-size="16" text-anchor="middle">Fe</text>
<text x="187.6" y="157.0" font-size="16" text-anchor="middle">Si</text>
<text x="455.2" y="161.8" font-size="16" text-anchor="middle">Fe</text>
<text x="167.4" y="213.6" font-size="16" text-anchor="middle">Al</text>
<text x="187.4" y="290.9" font-size="16" text-anchor="middle">Si</text>
<text x="363.4" y="95.8" font-size="15.7" text-anchor="middle">Cu</text>
<text x="384.6" y="68.5" font-size="15.6" text-anchor="middle">Mg</text>
<text x="363.5" y="312.1" font-size="15.7" text-anchor="middle">Cu</text>
<text x="385.5" y="275.5" font-size="15.6" text-anchor="middle">Mg</text>
<text x="274.2" y="145.5" font-size="16.05" text-anchor="start">b) magnification</text>
<text x="273.0" y="350.7" font-size="16.3" text-anchor="start">d) magnification</text>
<text x="547.0" y="225.1" font-size="16.35" text-anchor="end">a) 6061 T6</text>
<text x="544.0" y="406.4" font-size="16.3" text-anchor="end">c) 6061 T4</text>
<text x="311.5" y="418.7" font-size="16" text-anchor="middle">Energy (keV)</text>
<text transform="translate(21.1 91.8) rotate(-90)" font-size="17.6" text-anchor="middle">Counts</text>
<text transform="translate(21.1 297.1) rotate(-90)" font-size="17.6" text-anchor="middle">Counts</text>
</svg></body></html>
